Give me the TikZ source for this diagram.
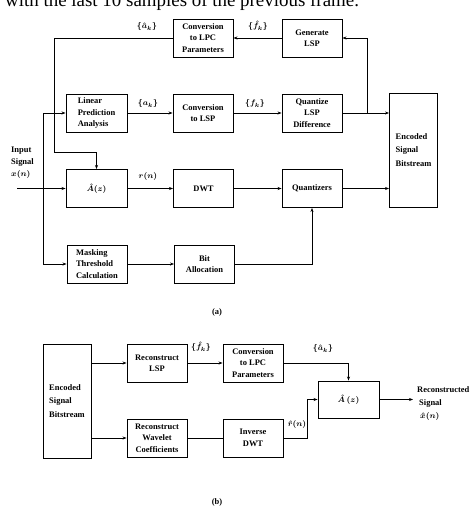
\documentclass[tikz,border=0pt]{standalone}
\usepackage{fontspec}
\setmainfont{Liberation Serif}
\usetikzlibrary{arrows.meta}
\begin{document}
\begin{tikzpicture}[x=1bp,y=-1bp,
 blk/.style={draw, line width=0.9bp, minimum width=60bp, minimum height=38bp, inner sep=1bp, align=center, font=\fontsize{8.5}{11.5}\selectfont\bfseries\boldmath},
 tall/.style={blk, minimum width=48bp, minimum height=114bp, align=left, font=\fontsize{8.5}{13.5}\selectfont\bfseries},
 lbl/.style={font=\fontsize{8.5}{12}\selectfont\bfseries\boldmath, inner sep=0pt},
 arr/.style={-{Stealth[length=4bp,width=3bp]}},
 ln/.style={line width=0.6bp}]
\useasboundingbox (0,0) rectangle (474,531);
\node[anchor=base west, font=\fontsize{19}{20}\selectfont, inner sep=0pt] (top) at (5,7) {with the last 10 samples of the previous frame.};
% (a)
\node[blk] (lpc1) at (203,38) {Conversion\\to LPC\\Parameters};
\node[blk] (gen) at (312,38) {Generate\\LSP};
\node[blk, align=left, minimum width=61bp] (lpa) at (96.5,113) {Linear\\Prediction\\Analysis};
\node[blk] (c2lsp) at (203,113) {Conversion\\to LSP};
\node[blk] (qlsp) at (312,113) {Quantize\\LSP\\Difference};
\node[tall] (enc) at (413.5,150) {Encoded\\Signal\\Bitstream};
\node[blk, minimum width=61bp] (az) at (96.5,188.5) {$\hat{A}(z)$};
\node[blk] (dwt) at (203.5,188.5) {DWT};
\node[blk] (quant) at (312,188.5) {Quantizers};
\node[blk, align=left] (mask) at (97,264) {Masking\\Threshold\\Calculation};
\node[blk] (bit) at (204.5,264) {Bit\\Allocation};
\node[lbl] (la1) at (147,27) {$\{\hat{a}_k\}$};
\node[lbl] (lf1) at (258,26) {$\{\hat{f}_k\}$};
\node[lbl] (la2) at (148,104) {$\{a_k\}$};
\node[lbl] (lf2) at (255,104) {$\{f_k\}$};
\node[lbl] (lr) at (148,177) {$r(n)$};
\node[lbl, align=left, anchor=west] (inp) at (11,163) {Input\\Signal\\$x(n)$};
\node[lbl] (cap1) at (217,312) {(a)};
\coordinate (in) at (17,188.5);
\coordinate (br) at (43,188.5);
\coordinate (tap) at (367,113);
\coordinate (c1) at (54,38);
\coordinate (c2) at (54,152);
\draw[ln,arr] (in) -- (az.west);
\draw[ln,arr] (br) |- (lpa.west);
\draw[ln,arr] (br) |- (mask.west);
\draw[ln,arr] (lpa) -- (c2lsp);
\draw[ln,arr] (c2lsp) -- (qlsp);
\draw[ln,arr] (qlsp.east) -- (qlsp.east -| enc.west);
\draw[ln,arr] (tap) |- (gen.east);
\draw[ln,arr] (gen) -- (lpc1);
\draw[ln,arr] (lpc1.west) -- (c1) -- (c2) -| (az.north);
\draw[ln,arr] (az) -- (dwt);
\draw[ln,arr] (dwt) -- (quant);
\draw[ln,arr] (quant.east) -- (quant.east -| enc.west);
\draw[ln,arr] (mask) -- (bit);
\draw[ln,arr] (bit.east) -| (quant.south);
% (b)
\node[tall] (encb) at (67,401) {Encoded\\Signal\\Bitstream};
\node[blk] (rlsp) at (157,363) {Reconstruct\\LSP};
\node[blk] (lpcb) at (253,363) {Conversion\\to LPC\\Parameters};
\node[blk] (rwc) at (157,438) {Reconstruct\\Wavelet\\Coefficients};
\node[blk] (idwt) at (253,438) {Inverse\\DWT};
\node[blk, minimum width=61bp, minimum height=37bp] (azb) at (348.5,399.5) {$\hat{A}\,(z)$};
\node[lbl] (lf3) at (201,347) {$\{\hat{f}_k\}$};
\node[lbl] (la3) at (323,349) {$\{\hat{a}_k\}$};
\node[lbl] (lr3) at (297,425) {$\hat{r}(n)$};
\node[lbl, align=left, anchor=west, font=\fontsize{8.5}{13}\selectfont\bfseries\boldmath] (out) at (417,404) {Reconstructed\\\hspace*{2bp}Signal\\\hspace*{3bp}$\hat{x}(n)$};
\node[lbl] (cap2) at (217,502) {(b)};
\coordinate (o) at (413,399.5);
\coordinate (k) at (307,438);
\draw[ln,arr] (encb.east |- rlsp) -- (rlsp);
\draw[ln,arr] (encb.east |- rwc) -- (rwc);
\draw[ln,arr] (rlsp) -- (lpcb);
\draw[ln,arr] (lpcb.east) -| (azb.north);
\draw[ln] (rwc) -- (idwt);
\draw[ln,arr] (idwt.east) -- (k) |- (azb.west);
\draw[ln,arr] (azb) -- (o);
\end{tikzpicture}
\end{document}
